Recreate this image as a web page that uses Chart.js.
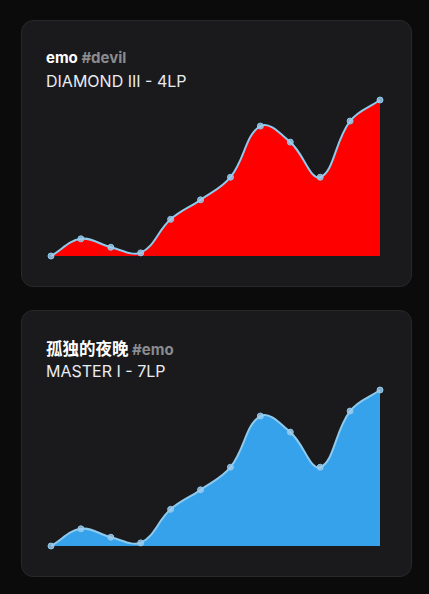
<!DOCTYPE html>
<html>
<head>
<meta charset="utf-8">
<script src="https://cdn.jsdelivr.net/npm/chart.js@4/dist/chart.umd.min.js"></script>
<style>
  html, body { margin: 0; padding: 0; background: #0b0b0c; width: 429px; height: 594px; overflow: hidden; }
  body { font-family: Inter, "Noto Sans", sans-serif; }
  .card { position: absolute; left: 21px; width: 389px; height: 265px; background: #1a1a1c; border: 1px solid #28282b; border-radius: 12px; }
  .name { position: absolute; left: 24px; top: 27px; font-size: 15px; font-weight: 700; color: #ffffff; font-family: Inter, "Noto Sans CJK SC", sans-serif; }
  .name .tag { color: #8b8b90; font-weight: 700; }
  .name .cjk { font-size: 16.5px; }
  .rank { position: absolute; left: 24px; top: 50px; font-size: 16px; color: #e9ecf2; }
  .plot { position: absolute; left: 24px; top: 74px; width: 339px; height: 166px; }
</style>
</head>
<body>
<div class="card" style="top:20px">
  <div class="name">emo <span class="tag">#devil</span></div>
  <div class="rank">DIAMOND III - 4LP</div>
  <div class="plot"><canvas id="chart1"></canvas></div>
</div>
<div class="card" style="top:310px">
  <div class="name" style="top:25px"><span class="cjk">孤独的夜晚</span> <span class="tag">#emo</span></div>
  <div class="rank">MASTER I - 7LP</div>
  <div class="plot"><canvas id="chart2"></canvas></div>
</div>
<script>
// match history points (relative LP progress), same curve on both cards
const games = ['1', '2', '3', '4', '5', '6', '7', '8', '9', '10', '11', '12'];
const lpDevil = [0, 11, 5.6, 2, 23.5, 36, 50.5, 83.3, 73, 50.5, 86.5, 100];
const lpEmo = [0, 11, 5.6, 2, 23.5, 36, 50.5, 83.3, 73, 50.5, 86.5, 100];

function makeChart(id, values, fillColor) {
    const ctx = document.getElementById(id).getContext('2d');
    return new Chart(ctx, {
        type: 'line',
        data: {
            labels: games,
            datasets: [{
                data: values,
                fill: true,
                clip: false,
                backgroundColor: fillColor,
                borderColor: 'rgb(142, 202, 236)',
                borderWidth: 2,
                tension: 0.4,
                pointRadius: 3,
                pointBorderWidth: 1,
                pointBackgroundColor: 'rgba(160, 205, 240, 0.8)',
                pointBorderColor: 'rgb(142, 202, 236)'
            }]
        },
        options: {
            responsive: true,
            maintainAspectRatio: false,
            animation: false,
            layout: { padding: 5 },
            plugins: { legend: { display: false }, tooltip: { enabled: false } },
            scales: {
                x: { display: false },
                y: { display: false, min: 0, max: 100 }
            }
        }
    });
}

makeChart('chart1', lpDevil, '#ff0000');
makeChart('chart2', lpEmo, '#36a2eb');
</script>
</body>
</html>
